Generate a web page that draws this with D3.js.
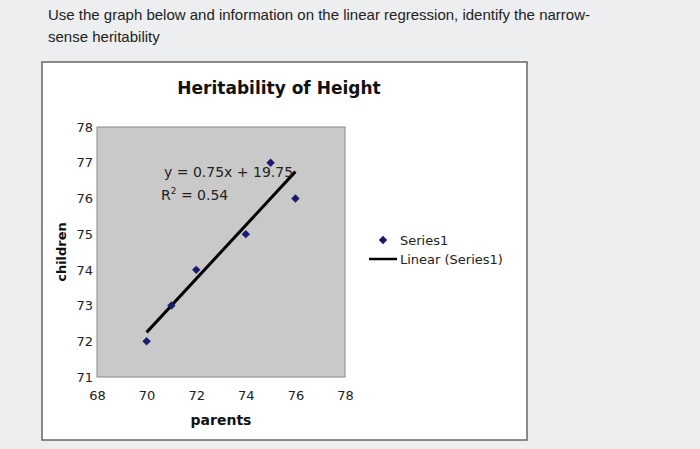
<!DOCTYPE html><html><head><meta charset="utf-8"><script src="https://cdn.jsdelivr.net/npm/d3@7"></script>
<style>body{margin:0;background:#eceef0;font-family:Verdana,"DejaVu Sans",sans-serif}</style></head><body><svg id="c" width="700" height="449"></svg><script>
const parents=[70,71,72,74,75,76];
const children=[72,73,74,75,77,76];
const xTicks=[68,70,72,74,76,78];
const yTicks=[71,72,73,74,75,76,77,78];
const slope=0.75, intercept=19.75;
const svg=d3.select("#c");
svg.append("text").attr("x",48).attr("y",20).attr("font-size",15).attr("fill","#222").attr("font-family","Arial,Liberation Sans,sans-serif").text("Use the graph below and information on the linear regression, identify the narrow-");
svg.append("text").attr("x",48).attr("y",42).attr("font-size",15).attr("fill","#222").attr("font-family","Arial,Liberation Sans,sans-serif").text("sense heritability");
svg.append("rect").attr("x",42).attr("y",62).attr("width",485).attr("height",378).attr("fill","#fff").attr("stroke","#666").attr("stroke-width",1.5);
const x=d3.scaleLinear().domain([68,78]).range([97,345]);
const y=d3.scaleLinear().domain([71,78]).range([377,127]);
svg.append("rect").attr("x",97).attr("y",127).attr("width",248).attr("height",250).attr("fill","#c9c9c9").attr("stroke","#888");
svg.append("text").attr("x",279).attr("y",94).attr("text-anchor","middle").attr("font-size",17).attr("font-weight","bold").attr("fill","#111").text("Heritability of Height");
const xa=svg.append("g").attr("transform","translate(0,377)").call(d3.axisBottom(x).tickValues(xTicks).tickFormat(d3.format("d")).tickSize(0).tickPadding(14));
xa.select(".domain").remove();
xa.selectAll("text").attr("font-size",13).attr("fill","#222").attr("font-family","Verdana,DejaVu Sans,sans-serif");
const ya=svg.append("g").attr("transform","translate(97,0)").call(d3.axisLeft(y).tickValues(yTicks).tickFormat(d3.format("d")).tickSize(0).tickPadding(4));
ya.select(".domain").remove();
ya.selectAll("text").attr("font-size",13).attr("fill","#222").attr("font-family","Verdana,DejaVu Sans,sans-serif");
svg.append("text").attr("x",221).attr("y",425).attr("text-anchor","middle").attr("font-size",14).attr("font-weight","bold").attr("fill","#111").text("parents");
svg.append("text").attr("transform","translate(66,252) rotate(-90)").attr("text-anchor","middle").attr("font-size",13).attr("font-weight","bold").attr("fill","#111").text("children");
svg.append("line").attr("x1",x(70)).attr("y1",y(slope*70+intercept)).attr("x2",x(76)).attr("y2",y(slope*76+intercept)).attr("stroke","#000").attr("stroke-width",3);
svg.selectAll(".pt").data(parents).enter().append("path").attr("d",d3.symbol(d3.symbolDiamond2,45)).attr("transform",(d,i)=>`translate(${x(d)},${y(children[i])})`).attr("fill","#1a1a6e");
svg.append("text").attr("x",164).attr("y",177).attr("font-size",14).attr("fill","#222").text("y = 0.75x + 19.75");
const r=svg.append("text").attr("x",161).attr("y",200).attr("font-size",14).attr("fill","#222");
r.append("tspan").text("R");r.append("tspan").attr("font-size",9).attr("dy",-6).text("2");r.append("tspan").attr("dy",6).text(" = 0.54");
svg.append("path").attr("d",d3.symbol(d3.symbolDiamond2,45)).attr("transform","translate(383,240)").attr("fill","#1a1a6e");
svg.append("text").attr("x",400).attr("y",245).attr("font-size",13).attr("fill","#222").text("Series1");
svg.append("line").attr("x1",369).attr("x2",397).attr("y1",259).attr("y2",259).attr("stroke","#000").attr("stroke-width",2.5);
svg.append("text").attr("x",400).attr("y",264).attr("font-size",13).attr("fill","#222").text("Linear (Series1)");
</script></body></html>
